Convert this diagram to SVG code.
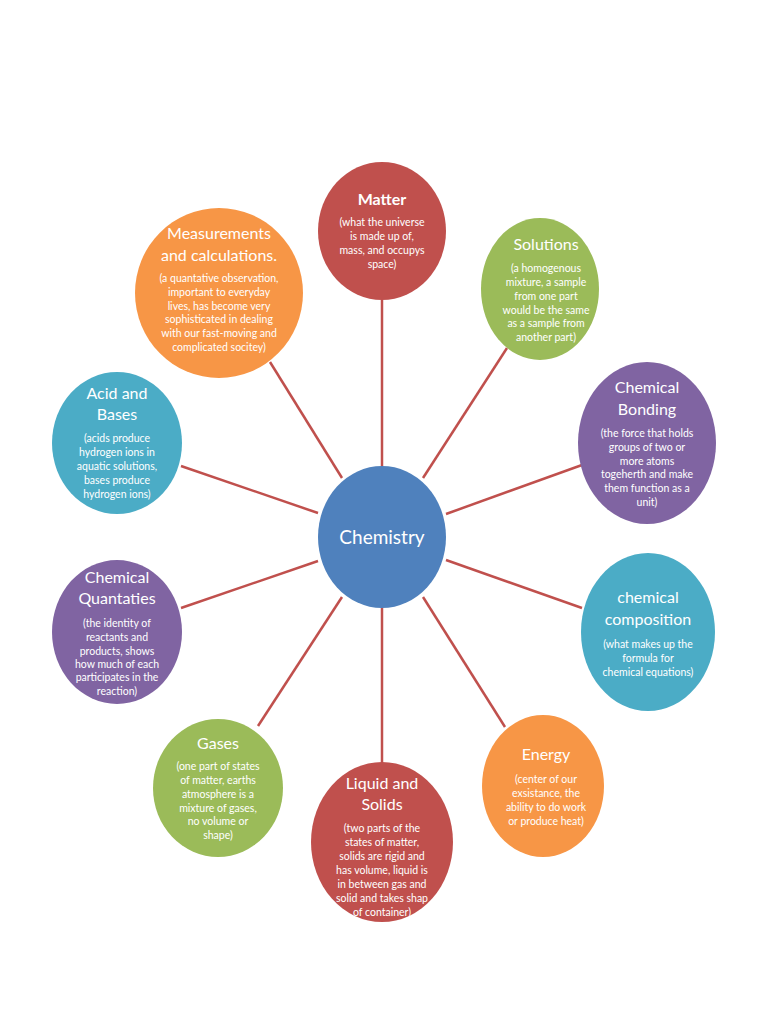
<svg xmlns="http://www.w3.org/2000/svg" width="768" height="1024" viewBox="0 0 768 1024">
<style>
.t{font-family:Lato,"Open Sans","Liberation Sans",sans-serif;fill:#fff;text-anchor:middle}
.h{font-size:16px}
.s{font-size:10.5px}
.c{stroke:#c0504d;stroke-width:2.5;fill:none}
</style>
<rect width="768" height="1024" fill="#fff"/>
<g id="connectors">
<line class="c" x1="382" y1="300" x2="382" y2="470"/>
<line class="c" x1="507" y1="348" x2="423" y2="478"/>
<line class="c" x1="582" y1="465" x2="446" y2="514"/>
<line class="c" x1="446" y1="560" x2="582" y2="608"/>
<line class="c" x1="423" y1="597" x2="505" y2="727"/>
<line class="c" x1="382" y1="605" x2="382" y2="765"/>
<line class="c" x1="342" y1="597" x2="258" y2="726"/>
<line class="c" x1="318" y1="561" x2="181" y2="608"/>
<line class="c" x1="181" y1="466" x2="318" y2="513"/>
<line class="c" x1="270" y1="362" x2="342" y2="478"/>
</g>
<g id="chemistry">
<ellipse cx="382" cy="537" rx="64" ry="71" fill="#4f81bd"/>
<text class="t" x="382" y="544" font-size="19">Chemistry</text>
</g>
<g id="matter">
<ellipse cx="382" cy="231" rx="64" ry="69" fill="#c0504d"/>
<text class="t h" x="382" y="205" font-weight="bold">Matter</text>
<text class="t s" x="382" y="226">(what the universe</text>
<text class="t s" x="382" y="240">is made up of,</text>
<text class="t s" x="382" y="254">mass, and occupys</text>
<text class="t s" x="382" y="268">space)</text>
</g>
<g id="measurements">
<ellipse cx="219" cy="293" rx="84" ry="85" fill="#f79646"/>
<text class="t h" x="219" y="239">Measurements</text>
<text class="t h" x="219" y="261">and calculations.</text>
<text class="t s" x="219" y="282">(a quantative observation,</text>
<text class="t s" x="219" y="296">important to everyday</text>
<text class="t s" x="219" y="310">lives, has become very</text>
<text class="t s" x="219" y="323">sophisticated in dealing</text>
<text class="t s" x="219" y="337">with our fast-moving and</text>
<text class="t s" x="219" y="351">complicated socitey)</text>
</g>
<g id="solutions">
<ellipse cx="540" cy="289" rx="59" ry="71" fill="#9bbb59"/>
<text class="t h" x="546" y="250">Solutions</text>
<text class="t s" x="546" y="272">(a homogenous</text>
<text class="t s" x="546" y="286">mixture, a sample</text>
<text class="t s" x="546" y="300">from one part</text>
<text class="t s" x="546" y="314">would be the same</text>
<text class="t s" x="546" y="327">as a sample from</text>
<text class="t s" x="546" y="341">another part)</text>
</g>
<g id="bonding">
<ellipse cx="647" cy="443" rx="69" ry="81" fill="#8064a2"/>
<text class="t h" x="647" y="393">Chemical</text>
<text class="t h" x="647" y="415">Bonding</text>
<text class="t s" x="647" y="437">(the force that holds</text>
<text class="t s" x="647" y="451">groups of two or</text>
<text class="t s" x="647" y="465">more atoms</text>
<text class="t s" x="647" y="478">togeherth and make</text>
<text class="t s" x="647" y="492">them function as a</text>
<text class="t s" x="647" y="506">unit)</text>
</g>
<g id="acid">
<ellipse cx="117" cy="443" rx="65" ry="71" fill="#4bacc6"/>
<text class="t h" x="117" y="399">Acid and</text>
<text class="t h" x="117" y="420">Bases</text>
<text class="t s" x="117" y="442">(acids produce</text>
<text class="t s" x="117" y="456">hydrogen ions in</text>
<text class="t s" x="117" y="470">aquatic solutions,</text>
<text class="t s" x="117" y="484">bases produce</text>
<text class="t s" x="117" y="498">hydrogen ions)</text>
</g>
<g id="quantaties">
<ellipse cx="117" cy="632" rx="65" ry="72" fill="#8064a2"/>
<text class="t h" x="117" y="583">Chemical</text>
<text class="t h" x="117" y="604">Quantaties</text>
<text class="t s" x="117" y="627">(the identity of</text>
<text class="t s" x="117" y="641">reactants and</text>
<text class="t s" x="117" y="655">products, shows</text>
<text class="t s" x="117" y="668">how much of each</text>
<text class="t s" x="117" y="681">participates in the</text>
<text class="t s" x="117" y="695">reaction)</text>
</g>
<g id="composition">
<ellipse cx="648" cy="632" rx="67" ry="79" fill="#4bacc6"/>
<text class="t h" x="648" y="603">chemical</text>
<text class="t h" x="648" y="625">composition</text>
<text class="t s" x="648" y="648">(what makes up the</text>
<text class="t s" x="648" y="662">formula for</text>
<text class="t s" x="648" y="676">chemical equations)</text>
</g>
<g id="gases">
<ellipse cx="218" cy="788" rx="65" ry="69" fill="#9bbb59"/>
<text class="t h" x="218" y="749">Gases</text>
<text class="t s" x="218" y="770">(one part of states</text>
<text class="t s" x="218" y="784">of matter, earths</text>
<text class="t s" x="218" y="798">atmosphere is a</text>
<text class="t s" x="218" y="812">mixture of gases,</text>
<text class="t s" x="218" y="825">no volume or</text>
<text class="t s" x="218" y="839">shape)</text>
</g>
<g id="liquid">
<ellipse cx="382" cy="842" rx="71" ry="80" fill="#c0504d"/>
<text class="t h" x="382" y="789">Liquid and</text>
<text class="t h" x="382" y="810">Solids</text>
<text class="t s" x="382" y="832">(two parts of the</text>
<text class="t s" x="382" y="846">states of matter,</text>
<text class="t s" x="382" y="860">solids are rigid and</text>
<text class="t s" x="382" y="874">has volume, liquid is</text>
<text class="t s" x="382" y="888">in between gas and</text>
<text class="t s" x="382" y="902">solid and takes shap</text>
<text class="t s" x="382" y="916">of container)</text>
</g>
<g id="energy">
<ellipse cx="543" cy="786" rx="61" ry="71" fill="#f79646"/>
<text class="t h" x="546" y="760">Energy</text>
<text class="t s" x="546" y="783">(center of our</text>
<text class="t s" x="546" y="797">exsistance, the</text>
<text class="t s" x="546" y="811">ability to do work</text>
<text class="t s" x="546" y="825">or produce heat)</text>
</g>
</svg>
